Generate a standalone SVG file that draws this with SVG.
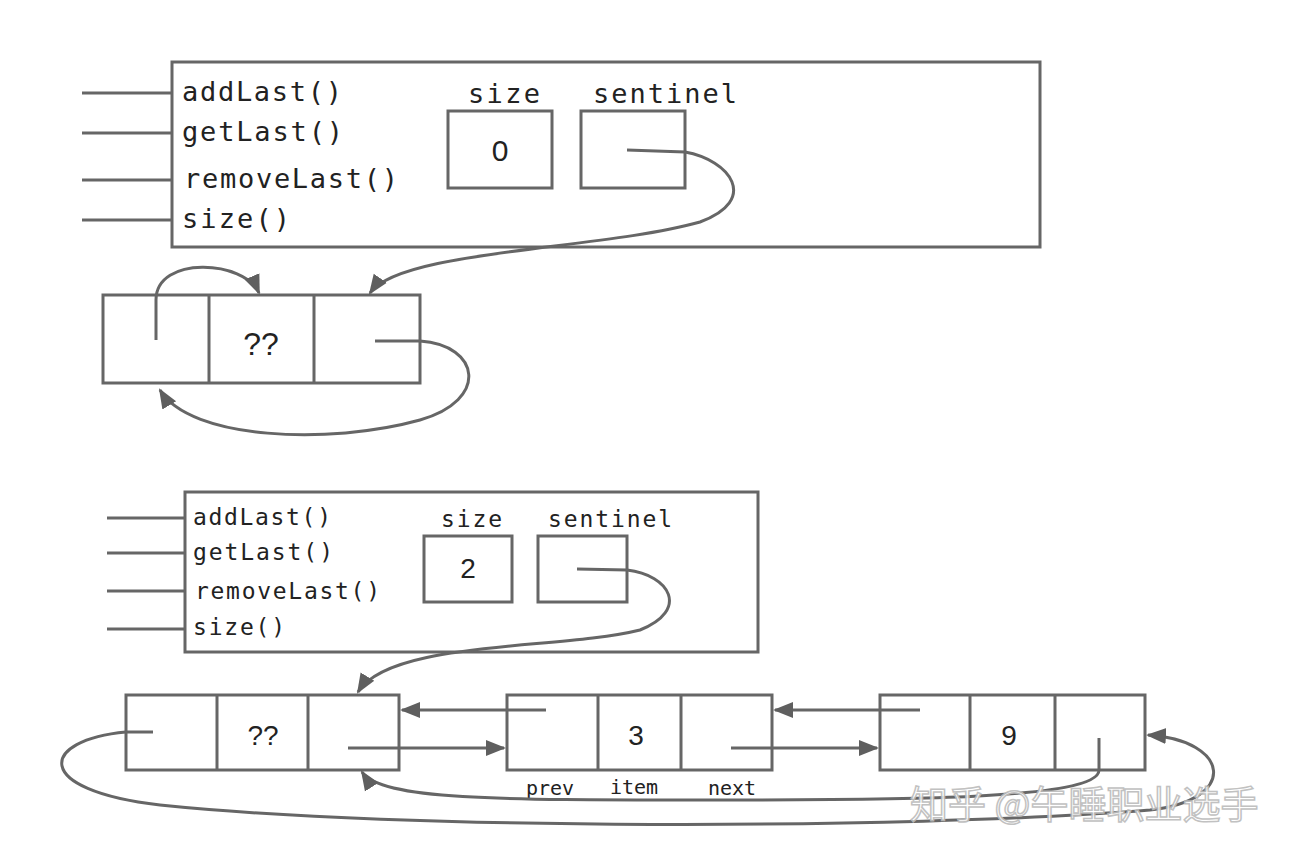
<svg xmlns="http://www.w3.org/2000/svg" width="1301" height="860" viewBox="0 0 1301 860">
<defs>
<marker id="ah" viewBox="0 0 10 10" refX="9" refY="5" markerWidth="20" markerHeight="20" markerUnits="userSpaceOnUse" orient="auto"><path d="M0,1 L10,5 L0,9 z" fill="#5f5f5f"/></marker>
<style>
.b{fill:#fff;stroke:#666;stroke-width:3}
.l{stroke:#666;stroke-width:3;fill:none}
.c{stroke:#666;stroke-width:3;fill:none;marker-end:url(#ah)}
.m{font-family:"DejaVu Sans Mono",monospace;fill:#222}
.s{font-family:"Liberation Sans",Arial,sans-serif;fill:#222;text-anchor:middle}
</style>
</defs>
<rect width="1301" height="860" fill="#fff"/>
<g id="top-list">
<rect class="b" x="172" y="62" width="868" height="185"/>
<path class="l" d="M82,93H172M82,133H172M82,180H172M82,220H172"/>
<g class="m" font-size="27" lengthAdjust="spacingAndGlyphs"><text x="182" y="101" textLength="160">addLast()</text><text x="182" y="141" textLength="161">getLast()</text><text x="184" y="188" textLength="214">removeLast()</text><text x="182" y="228" textLength="108">size()</text>
<text x="468" y="103" textLength="72">size</text><text x="593" y="103" textLength="144">sentinel</text></g>
<rect class="b" x="448" y="111" width="104" height="77" stroke-width="4"/>
<text class="s" x="500" y="161" font-size="30">0</text>
<rect class="b" x="581" y="111" width="104" height="77"/>
</g>
<g id="top-node">
<rect class="b" x="103" y="295" width="317" height="88"/>
<path class="l" d="M209,295V383M314,295V383"/>
<text class="s" x="261" y="355" font-size="32">??</text>
</g>
<g id="bottom-list">
<rect class="b" x="185" y="492" width="573" height="160"/>
<path class="l" d="M107,518H185M107,553H185M107,591H185M107,629H185"/>
<g class="m" font-size="23"><text x="193" y="525" textLength="138">addLast()</text><text x="193" y="560" textLength="140">getLast()</text><text x="195" y="599" textLength="185">removeLast()</text><text x="193" y="635" textLength="92">size()</text>
<text x="441" y="527" textLength="61">size</text><text x="548" y="527" textLength="124">sentinel</text></g>
<rect class="b" x="424" y="536" width="88" height="66"/>
<text class="s" x="468" y="578" font-size="28">2</text>
<rect class="b" x="538" y="536" width="89" height="66"/>
</g>
<g id="nodeA"><rect class="b" x="126" y="695" width="273" height="75"/><path class="l" d="M217,695V770M308,695V770"/><text class="s" x="263" y="745" font-size="28">??</text></g>
<g id="nodeB"><rect class="b" x="507" y="695" width="265" height="75"/><path class="l" d="M598,695V770M681,695V770"/><text class="s" x="636" y="745" font-size="28">3</text></g>
<g id="nodeC"><rect class="b" x="880" y="695" width="265" height="75"/><path class="l" d="M970,695V770M1055,695V770"/><text class="s" x="1009" y="745" font-size="28">9</text></g>
<g class="m" font-size="20" text-anchor="middle"><text x="550" y="795">prev</text><text x="634" y="794">item</text><text x="732" y="795">next</text></g>
<g id="connectors">
<path class="c" d="M627,150 L685,152 C730,160 760,200 700,222 C600,250 400,250 370,293"/>
<path class="c" d="M156,340 V300 C156,255 245,260 259,293"/>
<path class="c" d="M375,341 H420 C480,345 490,400 420,420 C330,445 190,440 160,390"/>
<path class="c" d="M577,569 L627,570 C670,575 690,610 640,630 C560,650 390,640 358,692"/>
<path class="c" d="M546,710 H402"/>
<path class="c" d="M920,710 H775"/>
<path class="c" d="M348,748 H504"/>
<path class="c" d="M731,748 H877"/>
<path class="c" d="M1099,738 V770 C1099,800 900,800 700,800 C500,800 380,800 362,772"/>
<path class="c" d="M153,732 H126 C40,740 30,790 160,805 C400,830 900,830 1150,810 C1240,800 1230,740 1148,735"/>
</g>
<text x="910" y="818" font-family="Noto Sans CJK SC,sans-serif" font-size="38" fill="#fff" stroke="#bbb" stroke-width="1.5" opacity="0.9">知乎 @午睡职业选手</text>
</svg>
